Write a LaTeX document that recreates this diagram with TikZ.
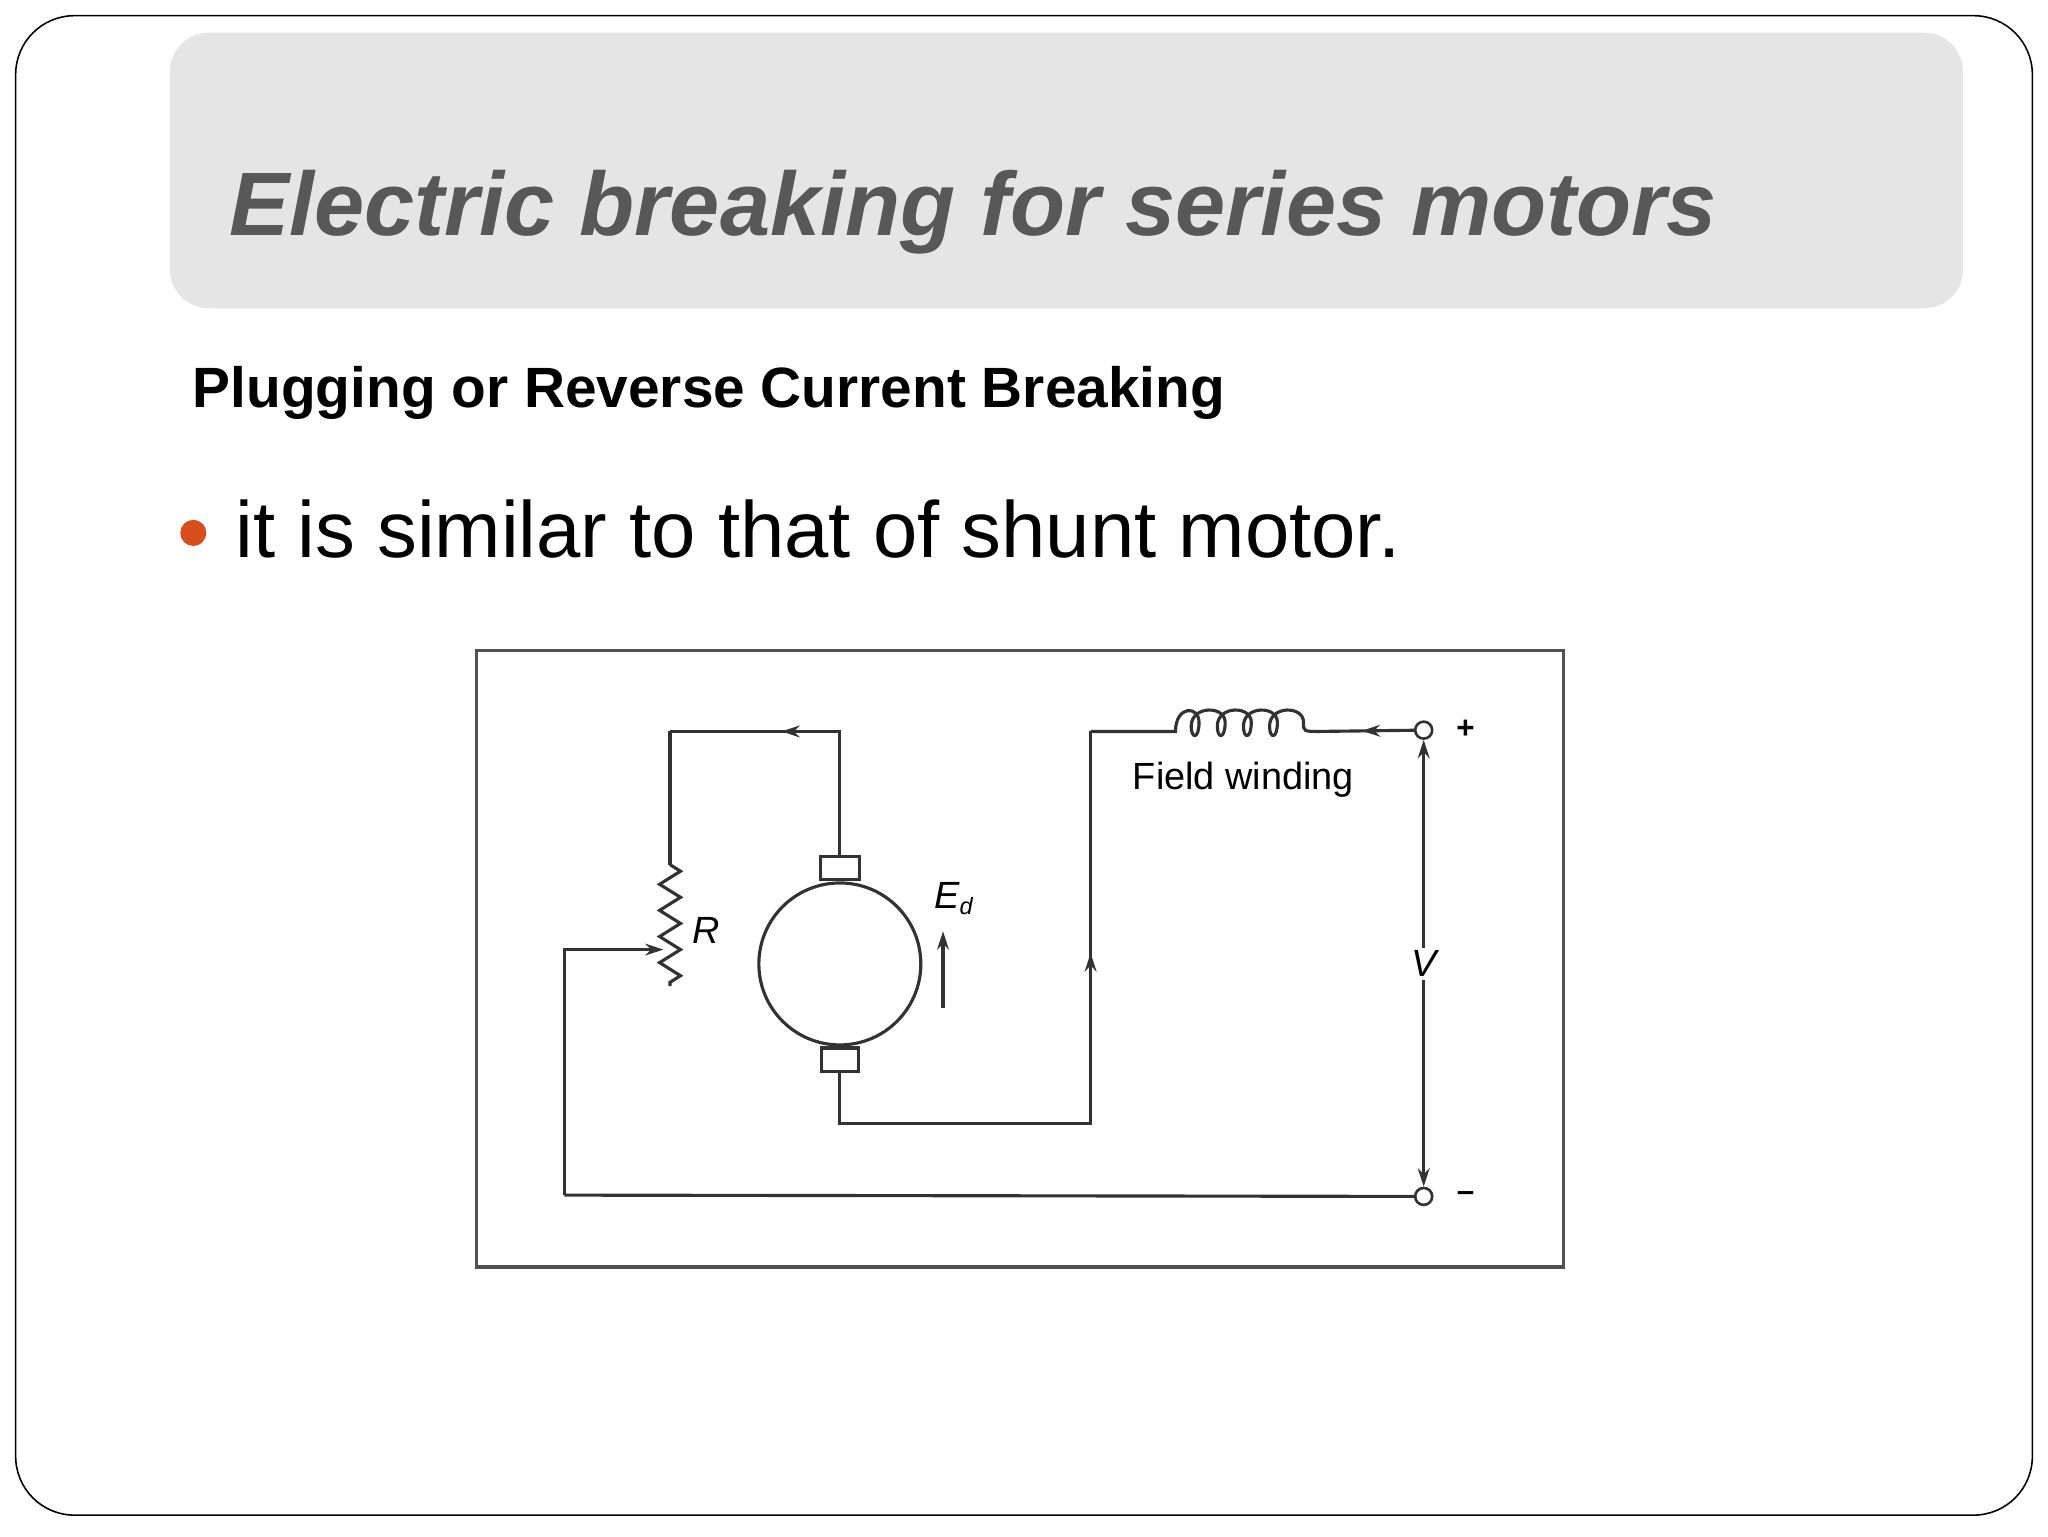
\documentclass[tikz,border=0pt]{standalone}
\usepackage{fontspec}
\setmainfont{Liberation Sans}
\usetikzlibrary{arrows.meta,decorations.pathmorphing,decorations.markings}
\definecolor{titlegray}{RGB}{229,229,229}
\definecolor{titletext}{RGB}{88,88,88}
\definecolor{bulletc}{RGB}{214,78,30}
\definecolor{wire}{RGB}{50,50,50}
\tikzset{
  w/.style={draw=wire,line width=2.4pt},
  midarrow/.style={postaction={decorate},decoration={markings,mark=at position #1 with {\arrow{Stealth[length=14pt,width=9pt]}}}},
  term/.style={circle,draw=wire,line width=2pt,fill=white,minimum size=13pt,inner sep=0pt},
}
\begin{document}
\begin{tikzpicture}[x=1pt,y=-1pt]
\useasboundingbox (0,0) rectangle (1568,1176);
\fill[white] (0,0) rectangle (1568,1176);
\draw[line width=1.2pt,rounded corners=45] (12,12) rectangle (1556,1160);
\fill[titlegray,rounded corners=30] (130,25) rectangle (1503,236);
\node[anchor=base west,text=titletext,font=\bfseries\itshape\fontsize{69}{75}\selectfont] (title) at (172,180) {Electric breaking for series motors};
\node[anchor=base west,font=\bfseries\fontsize{43.5}{48}\selectfont] (sub) at (144,312) {Plugging or Reverse Current Breaking};
\fill[bulletc] (148,408) circle (10);
\node[anchor=base west,font=\fontsize{61}{68}\selectfont] (bul) at (177,427) {it is similar to that of shunt motor.};
% circuit frame
\draw[draw=wire!85,line width=2.6pt] (365,498) rectangle (1197,970);
\node (motor) [circle,draw=wire,line width=2.4pt,minimum size=124pt,inner sep=0pt] at (643,738) {};
\node (bt) [draw=wire,line width=2.4pt,minimum width=30pt,minimum height=18pt,inner sep=0pt,anchor=south] at (motor.north) {};
\node (bb) [draw=wire,line width=2.4pt,minimum width=28pt,minimum height=18pt,inner sep=0pt,anchor=north] at (motor.south) {};
\coordinate (rtop) at (513,560);
\coordinate (mtop) at (643,560);
\coordinate (rb1) at (513,662);
\coordinate (rb2) at (513,755);
\coordinate (wip) at (432,727);
\coordinate (bl) at (432,915);
\coordinate (mb) at (643,860);
\coordinate (cb) at (835,860);
\coordinate (ct) at (835,560);
\coordinate (c1) at (895,560);
\coordinate (c2) at (1010,560);
\node[term] (tp) at (1090,559) {};
\node[term] (tn) at (1090,916) {};
% wires
\draw[w,midarrow=0.62] (bt.north) -- (mtop) -- (rtop);
\draw[w] (rtop) -- (rb1);
\draw[w,decorate,decoration={zigzag,segment length=20pt,amplitude=8pt}] (rb1) -- (rb2);
\draw[w,-{Stealth[length=14pt,width=9pt]}] (bl) -- (wip) -- (508,727);
\draw[w] (bl) -- (tn);
\draw[w,midarrow=0.68] (bb.south) -- (mb) -- (cb) -- (ct);
\draw[w] (ct) -- (c1) -- (900,560)
  .. controls (900,540) and (918,540) .. (918,553)
  .. controls (918,566) and (912,566) .. (912,556)
  .. controls (912,540) and (938,540) .. (938,553)
  .. controls (938,566) and (932,566) .. (932,556)
  .. controls (932,540) and (958,540) .. (958,553)
  .. controls (958,566) and (952,566) .. (952,556)
  .. controls (952,540) and (978,540) .. (978,553)
  .. controls (978,566) and (972,566) .. (972,556)
  .. controls (972,540) and (998,540) .. (998,553)
  .. controls (998,560) .. (c2);
\draw[w,midarrow=0.55] (tp) -- (c2);
% labels
\node[font=\fontsize{29}{32}\selectfont] (fw) at (952,597) {Field winding};
\node[font=\itshape\fontsize{29}{32}\selectfont] (rl) at (541,712) {R};
\node[font=\bfseries\fontsize{24}{30}\selectfont] (pl) at (1122,558) {+};
\node[font=\bfseries\fontsize{24}{30}\selectfont] (mi) at (1122,916) {--};
\node[font=\itshape\fontsize{29}{32}\selectfont,inner sep=2pt] (vl) at (1090,738) {V};
\node[font=\itshape\fontsize{29}{32}\selectfont] (ed) at (730,688) {E\raisebox{-4pt}{\fontsize{18}{20}\selectfont d}};
\coordinate (ea) at (722,772);
\coordinate (eb) at (722,713);
\draw[w,-{Stealth[length=14pt,width=9pt]}] (ea) -- (eb);
\draw[w,-{Stealth[length=14pt,width=9pt]}] (vl) -- (tp);
\draw[w,-{Stealth[length=14pt,width=9pt]}] (vl) -- (tn);
\end{tikzpicture}
\end{document}
